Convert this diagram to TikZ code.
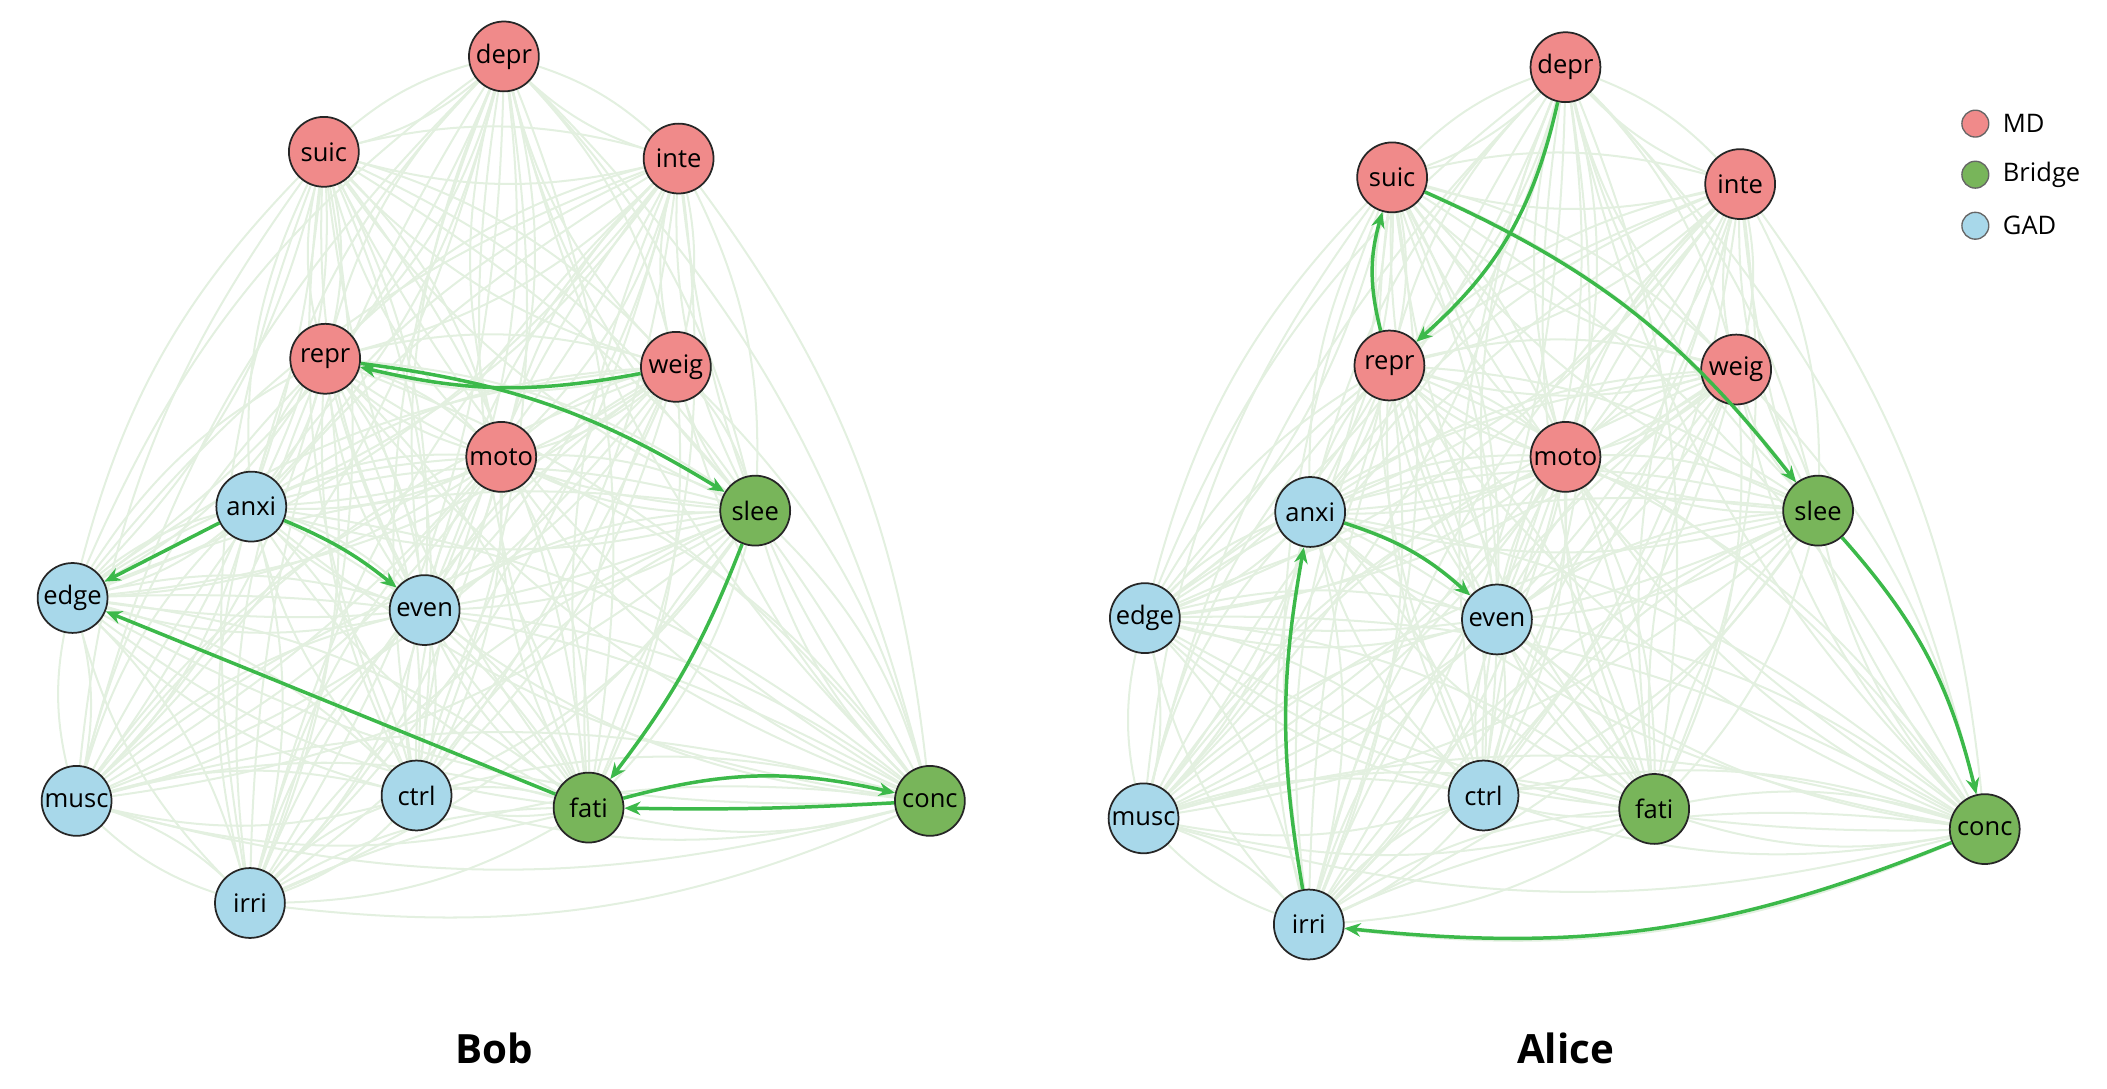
\documentclass[tikz,border=0pt]{standalone}
\usepackage{fontspec}
\setmainfont{Open Sans}
\usetikzlibrary{arrows.meta}
\definecolor{mdc}{HTML}{F08A8A}
\definecolor{brc}{HTML}{78B55A}
\definecolor{gadc}{HTML}{A8D8EA}
\definecolor{edg}{HTML}{3CB94A}
\definecolor{faint}{HTML}{E3F0E0}
\tikzset{
 nd/.style={circle,draw=black!85,line width=1.3pt,minimum size=52pt,inner sep=0pt,font=\fontsize{19}{22}\selectfont},
 md/.style={nd,fill=mdc},
 br/.style={nd,fill=brc},
 gad/.style={nd,fill=gadc},
 bg/.style={draw=faint,line width=1.5pt},
 ge/.style={draw=edg,line width=2.6pt,-{Stealth[length=12pt,width=10pt]}},
 lg/.style={circle,draw=black!60,line width=1pt,minimum size=20pt,inner sep=0pt},
 lt/.style={anchor=west,font=\fontsize{19}{22}\selectfont},
 ttl/.style={font=\fontsize{30}{34}\selectfont\bfseries}
}
\begin{document}
\begin{tikzpicture}[x=1pt,y=-1pt]
\useasboundingbox (0,0) rectangle (1568,810);
\begin{scope}[name prefix=b]
\foreach \n/\x/\y in {depr/375/42,suic/241/113,inte/505/118,repr/242/267,weig/503/273,moto/373/340,anxi/187/377,slee/562/380,edge/54/445,even/316/454,musc/57/596,ctrl/310/592,fati/438/601,conc/692/596,irri/186/672}
  \coordinate (\n) at (\x,\y);
\foreach \a [count=\i] in {depr,suic,inte,repr,weig,moto,anxi,slee,edge,even,musc,ctrl,fati,conc,irri}
  \foreach \c [count=\j] in {depr,suic,inte,repr,weig,moto,anxi,slee,edge,even,musc,ctrl,fati,conc,irri}
    {\ifnum\j>\i \path[bg] (\a) to[bend left=16] (\c);\path[bg] (\a) to[bend right=16] (\c);\fi}
\end{scope}
\begin{scope}[name prefix=a]
\foreach \n/\x/\y in {depr/1165/50,suic/1036/132,inte/1295/137,repr/1034/272,weig/1292/275,moto/1165/340,anxi/975/381,slee/1353/380,edge/852/460,even/1114/461,musc/851/609,ctrl/1104/592,fati/1231/602,irri/974/688,conc/1477/617}
  \coordinate (\n) at (\x,\y);
\foreach \a [count=\i] in {depr,suic,inte,repr,weig,moto,anxi,slee,edge,even,musc,ctrl,fati,conc,irri}
  \foreach \c [count=\j] in {depr,suic,inte,repr,weig,moto,anxi,slee,edge,even,musc,ctrl,fati,conc,irri}
    {\ifnum\j>\i \path[bg] (\a) to[bend left=16] (\c);\path[bg] (\a) to[bend right=16] (\c);\fi}
\end{scope}
\node[md] (Bdepr) at (bdepr) {depr};
\node[md] (Bsuic) at (bsuic) {suic};
\node[md] (Binte) at (binte) {inte};
\node[md] (Brepr) at (brepr) {repr};
\node[md] (Bweig) at (bweig) {weig};
\node[md] (Bmoto) at (bmoto) {moto};
\node[gad] (Banxi) at (banxi) {anxi};
\node[br] (Bslee) at (bslee) {slee};
\node[gad] (Bedge) at (bedge) {edge};
\node[gad] (Beven) at (beven) {even};
\node[gad] (Bmusc) at (bmusc) {musc};
\node[gad] (Bctrl) at (bctrl) {ctrl};
\node[br] (Bfati) at (bfati) {fati};
\node[br] (Bconc) at (bconc) {conc};
\node[gad] (Birri) at (birri) {irri};
\node[md] (Adepr) at (adepr) {depr};
\node[md] (Asuic) at (asuic) {suic};
\node[md] (Ainte) at (ainte) {inte};
\node[md] (Arepr) at (arepr) {repr};
\node[md] (Aweig) at (aweig) {weig};
\node[md] (Amoto) at (amoto) {moto};
\node[gad] (Aanxi) at (aanxi) {anxi};
\node[br] (Aslee) at (aslee) {slee};
\node[gad] (Aedge) at (aedge) {edge};
\node[gad] (Aeven) at (aeven) {even};
\node[gad] (Amusc) at (amusc) {musc};
\node[gad] (Actrl) at (actrl) {ctrl};
\node[br] (Afati) at (afati) {fati};
\node[gad] (Airri) at (airri) {irri};
\node[br] (Aconc) at (aconc) {conc};
\draw[ge] (Brepr) to[bend left=12] (Bslee);
\draw[ge] (Bweig) to[bend left=12] (Brepr);
\draw[ge] (Banxi) -- (Bedge);
\draw[ge] (Banxi) to[bend left=8] (Beven);
\draw[ge] (Bslee) to[bend left=8] (Bfati);
\draw[ge] (Bfati) -- (Bedge);
\draw[ge] (Bfati) to[bend left=14] (Bconc);
\draw[ge] (Bconc) to[bend left=2] (Bfati);
\draw[ge] (Adepr) to[bend left=18] (Arepr);
\draw[ge] (Arepr) to[bend left=15] (Asuic);
\draw[ge] (Asuic) to[bend left=14] (Aslee);
\draw[ge] (Aslee) to[bend left=14] (Aconc);
\draw[ge] (Aconc) to[bend left=14] (Airri);
\draw[ge] (Airri) to[bend left=10] (Aanxi);
\draw[ge] (Aanxi) to[bend left=12] (Aeven);
\node[lg,fill=mdc] (l1) at (1470,92) {};
\node[lg,fill=brc] (l2) at (1470,130) {};
\node[lg,fill=gadc] (l3) at (1470,168) {};
\node[lt] at (1487,92) {MD};
\node[lt] at (1487,130) {Bridge};
\node[lt] at (1487,168) {GAD};
\node[ttl] at (368,780) {Bob};
\node[ttl] at (1165,780) {Alice};
\end{tikzpicture}
\end{document}
